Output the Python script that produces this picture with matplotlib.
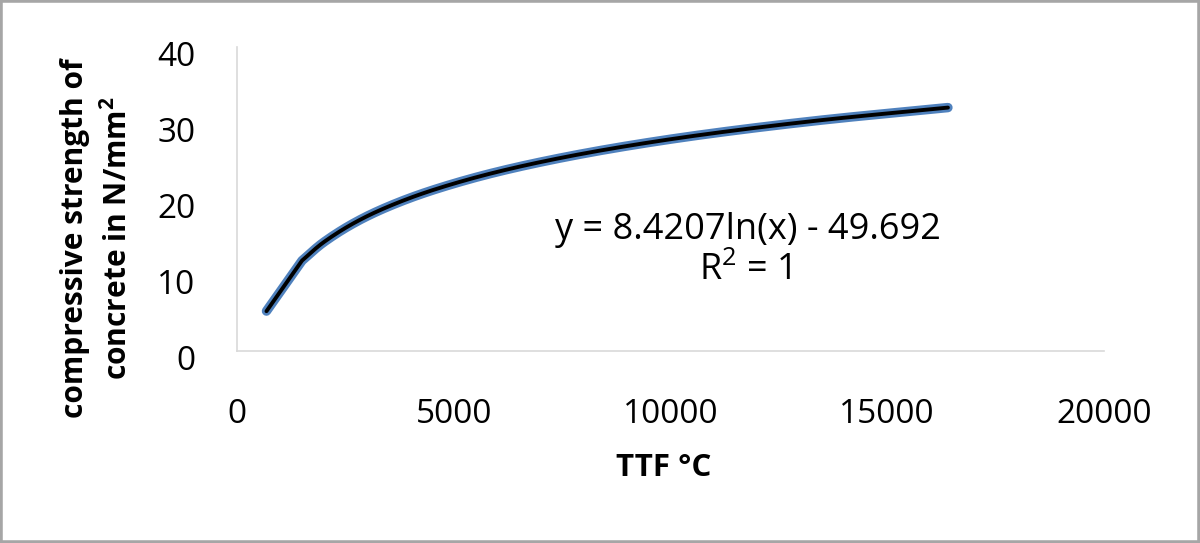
import numpy as np
import matplotlib.pyplot as plt
from matplotlib.patches import Rectangle
from matplotlib.transforms import ScaledTranslation

plt.switch_backend('Agg')
plt.rcParams['font.family'] = ['Open Sans', 'DejaVu Sans']
plt.rcParams['mathtext.fontset'] = 'custom'
plt.rcParams['mathtext.rm'] = 'Open Sans'
plt.rcParams['mathtext.bf'] = 'Open Sans:bold'

# data (TTF vs compressive strength)
ttf = [680, 1500, 2000, 2700, 3500, 4500, 5800, 7300, 9000, 11000, 13500, 16400]
strength = [5.25, 11.89, 14.31, 16.84, 19.03, 21.14, 23.28, 25.21, 26.98, 28.67, 30.39, 32.03]

x_ticks = [0, 5000, 10000, 15000, 20000]
y_ticks = [0, 10, 20, 30, 40]

EQ_TEXT = 'y = 8.4207ln(x) - 49.692'
R2_TEXT = 'R$^2$ = 1'


def smooth_line(xs, ys, n=25):
    # first segment straight, the rest catmull-rom (excel "smoothed line" look)
    pts = np.column_stack([xs, ys]).astype(float)
    tail = pts[1:]
    P = np.vstack([2 * tail[0] - tail[1], tail, 2 * tail[-1] - tail[-2]])
    t = np.linspace(0, 1, n)[:, None]
    out = [pts[:1]]
    for i in range(1, len(P) - 2):
        p0, p1, p2, p3 = P[i - 1], P[i], P[i + 1], P[i + 2]
        seg = 0.5 * ((2 * p1) + (-p0 + p2) * t + (2 * p0 - 5 * p1 + 4 * p2 - p3) * t ** 2
                     + (-p0 + 3 * p1 - 3 * p2 + p3) * t ** 3)
        out.append(seg)
    out = np.vstack(out)
    return out[:, 0], out[:, 1]


fig = plt.figure(figsize=(12, 5.43), dpi=100)
ax = fig.add_axes([237 / 1200, 1 - 351 / 543, (1104 - 237) / 1200, (351 - 47) / 543])

# data series (blue) and log trendline (black) on top
sx, sy = smooth_line(ttf, strength)
ax.plot(sx, sy, color='#4F81BD', lw=6.8, solid_capstyle='round',
        solid_joinstyle='round', zorder=2)

a, b = np.polyfit(np.log(ttf), strength, 1)
tx, ty = smooth_line(ttf, a * np.log(np.array(ttf, dtype=float)) + b)
ax.plot(tx, ty, color='black', lw=2.8, solid_capstyle='round',
        solid_joinstyle='round', zorder=3)

ax.set_xlim(0, 20000)
ax.set_ylim(0, 40)
ax.set_xticks(x_ticks)
ax.set_yticks(y_ticks)
ax.tick_params(length=0, labelsize=24)
ax.tick_params(axis='x', pad=34)
ax.tick_params(axis='y', pad=30)
# excel puts the y labels a little below the value
shift = ScaledTranslation(0, -6 / 100, fig.dpi_scale_trans)
for lab in ax.get_yticklabels():
    lab.set_transform(lab.get_transform() + shift)

for side in ['top', 'right']:
    ax.spines[side].set_visible(False)
for side in ['left', 'bottom']:
    ax.spines[side].set_color('#d9d9d9')
    ax.spines[side].set_linewidth(1.2)

ax.text(11790, 15.9, EQ_TEXT, fontsize=26, ha='center', va='center')
ax.text(11720, 10.6, R2_TEXT, fontsize=26, ha='center', va='center')

fig.text(664 / 1200, 1 - 468 / 543, 'TTF °C', fontsize=22.5, fontweight='bold',
         ha='center', va='center')
fig.text(97 / 1200, 1 - 238 / 543, 'compressive strength of\nconcrete in N/mm$^\\mathbf{2}$',
         fontsize=21.5, fontweight='bold', rotation=90, ha='center', va='center',
         linespacing=1.5)

# grey frame around the chart area
fig.patches.append(Rectangle((0, 0), 1, 1, transform=fig.transFigure, fill=False,
                             edgecolor='#a6a6a6', lw=4))

fig.savefig('out.png', dpi=100)
